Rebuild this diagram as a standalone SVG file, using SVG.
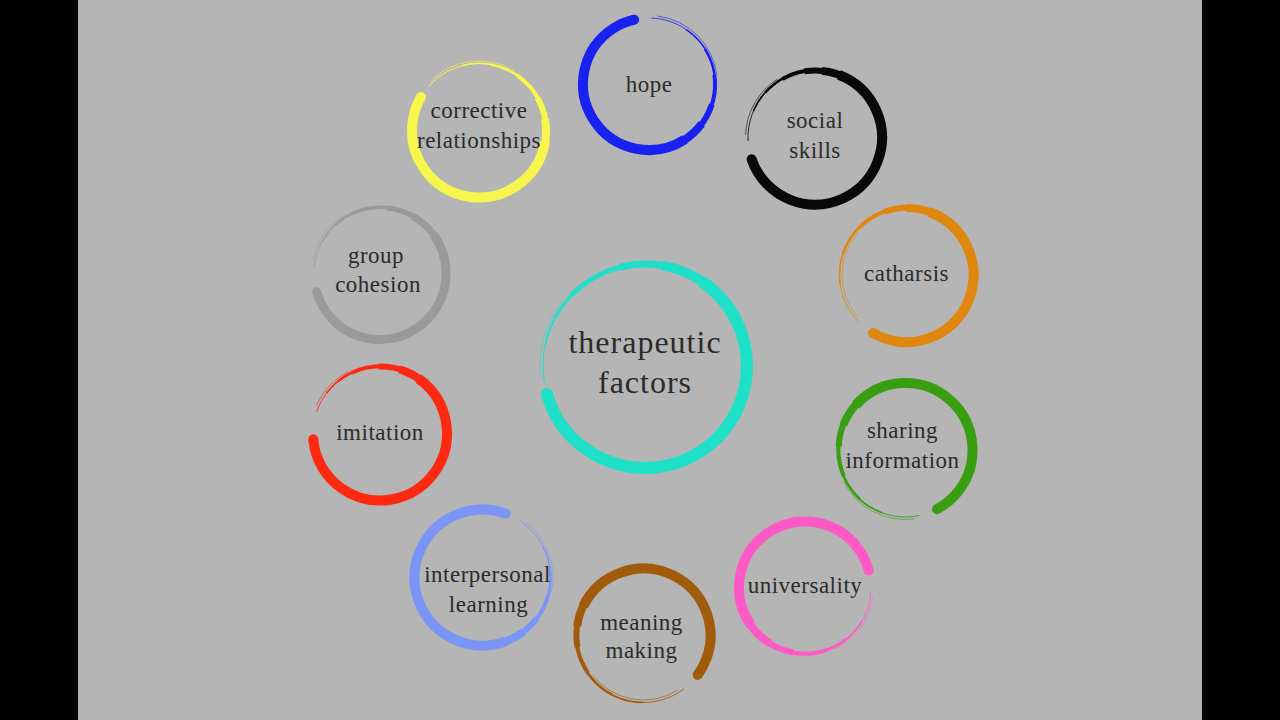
<svg xmlns="http://www.w3.org/2000/svg" width="1280" height="720" viewBox="0 0 1280 720">
<style>
.ring circle{fill:none;stroke-linecap:butt}
.ring .hd{stroke-linecap:round;stroke-dasharray:0 400;stroke-width:10}
.w1{stroke-width:10}.w2{stroke-width:8}.w3{stroke-width:6}.w4{stroke-width:4}.w5{stroke-width:2.5}.w6{stroke-width:1.5}.w7{stroke-width:0.8}
.ring .st{stroke-width:0.7;opacity:0.8}
#center .hd,#center .w1{stroke-width:12}#center .w2{stroke-width:9.6}#center .w3{stroke-width:7.2}#center .w4{stroke-width:4.8}#center .w5{stroke-width:3}#center .w6{stroke-width:1.8}#center .w7{stroke-width:0.9}
#group-cohesion .hd,#group-cohesion .w1{stroke-width:9}#group-cohesion .w2{stroke-width:7.2}#group-cohesion .w3{stroke-width:5.4}#group-cohesion .w4{stroke-width:3.6}#group-cohesion .w5{stroke-width:2.3}#group-cohesion .w6{stroke-width:1.4}
.lbl{font-family:"Liberation Serif","DejaVu Serif",serif;font-size:23px;letter-spacing:0.5px;fill:#2b2b2b;stroke:none;text-anchor:middle}
.big{font-size:32px;letter-spacing:1px}
</style>
<rect width="1280" height="720" fill="#000"/>
<rect x="78" y="0" width="1124" height="720" fill="#b4b5b4"/>
<g id="connectors"/>

<g id="center" class="ring" transform="translate(645,366)" stroke="#1fe0c8">
<circle r="102" pathLength="360" class="hd" transform="rotate(164)"/>
<circle r="102" pathLength="360" class="w1" transform="rotate(-56)" stroke-dasharray="220 400"/>
<circle r="102" pathLength="360" class="w2" transform="rotate(-80)" stroke-dasharray="244 400"/>
<circle r="102" pathLength="360" class="w3" transform="rotate(-104)" stroke-dasharray="268 400"/>
<circle r="102" pathLength="360" class="w4" transform="rotate(-136)" stroke-dasharray="300 400"/>
<circle r="102" pathLength="360" class="w5" transform="rotate(-152)" stroke-dasharray="316 400"/>
<circle r="102" pathLength="360" class="w6" transform="rotate(-168)" stroke-dasharray="332 400"/>
<circle r="102" pathLength="360" class="w7" transform="rotate(-190)" stroke-dasharray="354 400"/>
<circle r="105" pathLength="360" class="st" transform="rotate(-185)" stroke-dasharray="50 400"/>
<text class="lbl big" x="0" y="-13">therapeutic</text>
<text class="lbl big" x="0" y="27">factors</text>
</g>

<g id="hope" class="ring" transform="translate(649,84)" stroke="#1a22f0">
<circle r="66" pathLength="360" class="hd" transform="rotate(-103)"/>
<circle r="66" pathLength="360" class="w1" transform="rotate(-303)" stroke-dasharray="200 400"/>
<circle r="66" pathLength="360" class="w2" transform="rotate(-323)" stroke-dasharray="220 400"/>
<circle r="66" pathLength="360" class="w3" transform="rotate(-342)" stroke-dasharray="239 400"/>
<circle r="66" pathLength="360" class="w4" transform="rotate(-368)" stroke-dasharray="265 400"/>
<circle r="66" pathLength="360" class="w5" transform="rotate(-392)" stroke-dasharray="289 400"/>
<circle r="66" pathLength="360" class="w6" transform="rotate(-416)" stroke-dasharray="313 400"/>
<circle r="66" pathLength="360" class="w7" transform="rotate(-448)" stroke-dasharray="345 400"/>
<circle r="68.5" pathLength="360" class="st" transform="rotate(-443)" stroke-dasharray="75 400"/>
<text class="lbl" x="0" y="8">hope</text>
</g>

<g id="social-skills" class="ring" transform="translate(815,137.5)" stroke="#0a0a0a">
<circle r="67" pathLength="360" class="hd" transform="rotate(161)"/>
<circle r="67" pathLength="360" class="w1" transform="rotate(-69)" stroke-dasharray="230 400"/>
<circle r="67" pathLength="360" class="w2" transform="rotate(-84)" stroke-dasharray="245 400"/>
<circle r="67" pathLength="360" class="w3" transform="rotate(-99)" stroke-dasharray="260 400"/>
<circle r="67" pathLength="360" class="w4" transform="rotate(-119)" stroke-dasharray="280 400"/>
<circle r="67" pathLength="360" class="w5" transform="rotate(-138)" stroke-dasharray="299 400"/>
<circle r="67" pathLength="360" class="w6" transform="rotate(-157)" stroke-dasharray="318 400"/>
<circle r="67" pathLength="360" class="w7" transform="rotate(-183)" stroke-dasharray="344 400"/>
<circle r="69.5" pathLength="360" class="st" transform="rotate(-178)" stroke-dasharray="55 400"/>
<text class="lbl" x="0" y="-9.5">social</text>
<text class="lbl" x="0" y="20.5">skills</text>
</g>

<g id="corrective-relationships" class="ring" transform="translate(479,130.5)" stroke="#f6f64e">
<circle r="67" pathLength="360" class="hd" transform="rotate(210)"/>
<circle r="67" pathLength="360" class="w1" transform="rotate(10)" stroke-dasharray="200 400"/>
<circle r="67" pathLength="360" class="w2" transform="rotate(-10)" stroke-dasharray="220 400"/>
<circle r="67" pathLength="360" class="w3" transform="rotate(-29)" stroke-dasharray="239 400"/>
<circle r="67" pathLength="360" class="w4" transform="rotate(-55)" stroke-dasharray="265 400"/>
<circle r="67" pathLength="360" class="w5" transform="rotate(-80)" stroke-dasharray="290 400"/>
<circle r="67" pathLength="360" class="w6" transform="rotate(-105)" stroke-dasharray="315 400"/>
<circle r="67" pathLength="360" class="w7" transform="rotate(-139)" stroke-dasharray="349 400"/>
<circle r="69.5" pathLength="360" class="st" transform="rotate(-134)" stroke-dasharray="75 400"/>
<text class="lbl" x="0" y="-12.5">corrective</text>
<text class="lbl" x="0" y="17.5">relationships</text>
</g>

<g id="group-cohesion" class="ring" transform="translate(380,273.5)" stroke="#9a9a9a">
<circle r="66" pathLength="360" class="hd" transform="rotate(164)"/>
<circle r="66" pathLength="360" class="w1" transform="rotate(-36)" stroke-dasharray="200 400"/>
<circle r="66" pathLength="360" class="w2" transform="rotate(-60)" stroke-dasharray="224 400"/>
<circle r="66" pathLength="360" class="w3" transform="rotate(-84)" stroke-dasharray="248 400"/>
<circle r="66" pathLength="360" class="w4" transform="rotate(-116)" stroke-dasharray="280 400"/>
<circle r="66" pathLength="360" class="w5" transform="rotate(-133)" stroke-dasharray="297 400"/>
<circle r="66" pathLength="360" class="w6" transform="rotate(-151)" stroke-dasharray="315 400"/>
<circle r="66" pathLength="360" class="w7" transform="rotate(-174)" stroke-dasharray="338 400"/>
<circle r="68.5" pathLength="360" class="st" transform="rotate(-169)" stroke-dasharray="50 400"/>
<text class="lbl" x="-4" y="-10.5">group</text>
<text class="lbl" x="-2" y="18.5">cohesion</text>
</g>

<g id="imitation" class="ring" transform="translate(380,433.5)" stroke="#ff2a12">
<circle r="67" pathLength="360" class="hd" transform="rotate(175)"/>
<circle r="67" pathLength="360" class="w1" transform="rotate(-55)" stroke-dasharray="230 400"/>
<circle r="67" pathLength="360" class="w2" transform="rotate(-73)" stroke-dasharray="248 400"/>
<circle r="67" pathLength="360" class="w3" transform="rotate(-91)" stroke-dasharray="266 400"/>
<circle r="67" pathLength="360" class="w4" transform="rotate(-115)" stroke-dasharray="290 400"/>
<circle r="67" pathLength="360" class="w5" transform="rotate(-129)" stroke-dasharray="304 400"/>
<circle r="67" pathLength="360" class="w6" transform="rotate(-143)" stroke-dasharray="318 400"/>
<circle r="67" pathLength="360" class="w7" transform="rotate(-161)" stroke-dasharray="336 400"/>
<circle r="69.5" pathLength="360" class="st" transform="rotate(-156)" stroke-dasharray="40 400"/>
<text class="lbl" x="0" y="6.5">imitation</text>
</g>

<g id="catharsis" class="ring" transform="translate(906.5,275)" stroke="#e0870f">
<circle r="67" pathLength="360" class="hd" transform="rotate(120)"/>
<circle r="67" pathLength="360" class="w1" transform="rotate(-70)" stroke-dasharray="190 400"/>
<circle r="67" pathLength="360" class="w2" transform="rotate(-90)" stroke-dasharray="210 400"/>
<circle r="67" pathLength="360" class="w3" transform="rotate(-109)" stroke-dasharray="229 400"/>
<circle r="67" pathLength="360" class="w4" transform="rotate(-135)" stroke-dasharray="255 400"/>
<circle r="67" pathLength="360" class="w5" transform="rotate(-162)" stroke-dasharray="282 400"/>
<circle r="67" pathLength="360" class="w6" transform="rotate(-188)" stroke-dasharray="308 400"/>
<circle r="67" pathLength="360" class="w7" transform="rotate(-224)" stroke-dasharray="344 400"/>
<circle r="64.5" pathLength="360" class="st" transform="rotate(-219)" stroke-dasharray="80 400"/>
<text class="lbl" x="0" y="6">catharsis</text>
</g>

<g id="sharing-information" class="ring" transform="translate(905.5,450)" stroke="#3a9e12">
<circle r="67" pathLength="360" class="hd" transform="rotate(62)"/>
<circle r="67" pathLength="360" class="w1" transform="rotate(-138)" stroke-dasharray="200 400"/>
<circle r="67" pathLength="360" class="w2" transform="rotate(-158)" stroke-dasharray="220 400"/>
<circle r="67" pathLength="360" class="w3" transform="rotate(-177)" stroke-dasharray="239 400"/>
<circle r="67" pathLength="360" class="w4" transform="rotate(-203)" stroke-dasharray="265 400"/>
<circle r="67" pathLength="360" class="w5" transform="rotate(-227)" stroke-dasharray="289 400"/>
<circle r="67" pathLength="360" class="w6" transform="rotate(-250)" stroke-dasharray="312 400"/>
<circle r="67" pathLength="360" class="w7" transform="rotate(-282)" stroke-dasharray="344 400"/>
<circle r="69.5" pathLength="360" class="st" transform="rotate(-277)" stroke-dasharray="70 400"/>
<text class="lbl" x="-3" y="-12">sharing</text>
<text class="lbl" x="-3" y="18">information</text>
</g>

<g id="interpersonal-learning" class="ring" transform="translate(482.5,577.5)" stroke="#7b95f7">
<circle r="68" pathLength="360" class="hd" transform="rotate(-70)"/>
<circle r="68" pathLength="360" class="w1" transform="rotate(-290)" stroke-dasharray="220 400"/>
<circle r="68" pathLength="360" class="w2" transform="rotate(-307)" stroke-dasharray="237 400"/>
<circle r="68" pathLength="360" class="w3" transform="rotate(-323)" stroke-dasharray="253 400"/>
<circle r="68" pathLength="360" class="w4" transform="rotate(-345)" stroke-dasharray="275 400"/>
<circle r="68" pathLength="360" class="w5" transform="rotate(-367)" stroke-dasharray="297 400"/>
<circle r="68" pathLength="360" class="w6" transform="rotate(-388)" stroke-dasharray="318 400"/>
<circle r="68" pathLength="360" class="w7" transform="rotate(-417)" stroke-dasharray="347 400"/>
<circle r="70.5" pathLength="360" class="st" transform="rotate(-412)" stroke-dasharray="65 400"/>
<text class="lbl" x="5" y="4.5">interpersonal</text>
<text class="lbl" x="6" y="34.5">learning</text>
</g>

<g id="meaning-making" class="ring" transform="translate(643.5,635.5)" stroke="#a05c0c">
<circle r="67" pathLength="360" class="hd" transform="rotate(36)"/>
<circle r="67" pathLength="360" class="w1" transform="rotate(-154)" stroke-dasharray="190 400"/>
<circle r="67" pathLength="360" class="w2" transform="rotate(-172)" stroke-dasharray="208 400"/>
<circle r="67" pathLength="360" class="w3" transform="rotate(-190)" stroke-dasharray="226 400"/>
<circle r="67" pathLength="360" class="w4" transform="rotate(-214)" stroke-dasharray="250 400"/>
<circle r="67" pathLength="360" class="w5" transform="rotate(-242)" stroke-dasharray="278 400"/>
<circle r="67" pathLength="360" class="w6" transform="rotate(-270)" stroke-dasharray="306 400"/>
<circle r="67" pathLength="360" class="w7" transform="rotate(-307)" stroke-dasharray="343 400"/>
<circle r="64.5" pathLength="360" class="st" transform="rotate(-302)" stroke-dasharray="85 400"/>
<text class="lbl" x="-2" y="-5.5">meaning</text>
<text class="lbl" x="-2" y="22.5">making</text>
</g>

<g id="universality" class="ring" transform="translate(805,587.5)" stroke="#ff5ac6">
<circle r="66" pathLength="360" class="hd" transform="rotate(-15)"/>
<circle r="66" pathLength="360" class="w1" transform="rotate(-215)" stroke-dasharray="200 400"/>
<circle r="66" pathLength="360" class="w2" transform="rotate(-238)" stroke-dasharray="223 400"/>
<circle r="66" pathLength="360" class="w3" transform="rotate(-260)" stroke-dasharray="245 400"/>
<circle r="66" pathLength="360" class="w4" transform="rotate(-290)" stroke-dasharray="275 400"/>
<circle r="66" pathLength="360" class="w5" transform="rotate(-310)" stroke-dasharray="295 400"/>
<circle r="66" pathLength="360" class="w6" transform="rotate(-330)" stroke-dasharray="315 400"/>
<circle r="66" pathLength="360" class="w7" transform="rotate(-356)" stroke-dasharray="341 400"/>
<circle r="68.5" pathLength="360" class="st" transform="rotate(-351)" stroke-dasharray="55 400"/>
<text class="lbl" x="0" y="5.5">universality</text>
</g>
</svg>
